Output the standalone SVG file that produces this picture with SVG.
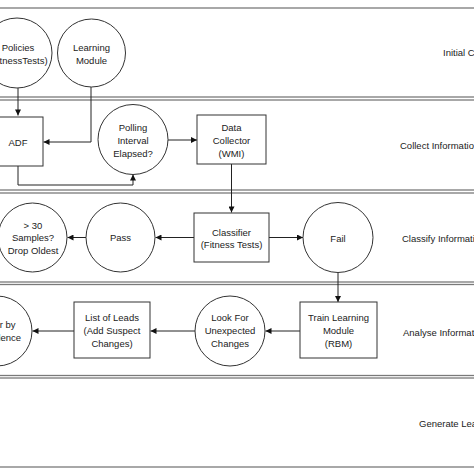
<svg xmlns="http://www.w3.org/2000/svg" width="474" height="474" viewBox="0 0 474 474">
<style>
.lane{fill:none;stroke:#7a7a7a;stroke-width:1.3}
.node{fill:#fff;stroke:#333;stroke-width:1}
.t{font-family:"Liberation Sans",Arial,sans-serif;font-size:9.5px;fill:#222;text-anchor:middle}
.lab{font-family:"Liberation Sans",Arial,sans-serif;font-size:9.5px;fill:#222}
.c{fill:none;stroke:#222;stroke-width:1}
</style>
<defs>
<marker id="ah" viewBox="0 0 10 10" refX="10" refY="5" markerWidth="7" markerHeight="6" orient="auto" markerUnits="userSpaceOnUse">
<path d="M0,0 L10,5 L0,10 z" fill="#111"/>
</marker>
</defs>
<rect width="474" height="474" fill="#fff"/>
<g id="lanes">
<rect class="lane" x="-10" y="8" width="500" height="89"/>
<rect class="lane" x="-10" y="100" width="500" height="90"/>
<rect class="lane" x="-10" y="193" width="500" height="89"/>
<rect class="lane" x="-10" y="284.5" width="500" height="91"/>
<rect class="lane" x="-10" y="378" width="500" height="89"/>
<text class="lab" x="443" y="56">Initial Conditions</text>
<text class="lab" x="400" y="148.5">Collect Information</text>
<text class="lab" x="402" y="241.5">Classify Information</text>
<text class="lab" x="403" y="335.5">Analyse Information</text>
<text class="lab" x="419" y="426.5">Generate Leads</text>
</g>
<g id="connectors">
<path class="c" d="M18,88 V115.5" marker-end="url(#ah)"/>
<path class="c" d="M91,87 V142 H43.5" marker-end="url(#ah)"/>
<path class="c" d="M18,166 V185 H133 V174.5" marker-end="url(#ah)"/>
<path class="c" d="M168,140 H197" marker-end="url(#ah)"/>
<path class="c" d="M231.5,164 V212.5" marker-end="url(#ah)"/>
<path class="c" d="M194,237.5 H155.5" marker-end="url(#ah)"/>
<path class="c" d="M86,237.5 H67.5" marker-end="url(#ah)"/>
<path class="c" d="M269,237.5 H303" marker-end="url(#ah)"/>
<path class="c" d="M338,272.5 V302" marker-end="url(#ah)"/>
<path class="c" d="M300,331 H265.5" marker-end="url(#ah)"/>
<path class="c" d="M195,331 H150.5" marker-end="url(#ah)"/>
<path class="c" d="M74,331 H32.5" marker-end="url(#ah)"/>
</g>
<g id="policies">
<circle class="node" cx="17" cy="53" r="35"/>
<text class="t" x="18" y="50.5">Policies</text>
<text class="t" x="18" y="63.5">(FitnessTests)</text>
</g>
<g id="learning-module">
<circle class="node" cx="91.5" cy="53" r="34"/>
<text class="t" x="91.5" y="50.5">Learning</text>
<text class="t" x="91.5" y="63.5">Module</text>
</g>
<g id="adf">
<rect class="node" x="-7" y="117" width="50" height="49"/>
<text class="t" x="18" y="145.5">ADF</text>
</g>
<g id="polling">
<circle class="node" cx="133" cy="139.5" r="35"/>
<text class="t" x="133" y="130.5">Polling</text>
<text class="t" x="133" y="143.5">Interval</text>
<text class="t" x="133" y="156.5">Elapsed?</text>
</g>
<g id="data-collector">
<rect class="node" x="197" y="115" width="69" height="49"/>
<text class="t" x="231.5" y="130.5">Data</text>
<text class="t" x="231.5" y="143.5">Collector</text>
<text class="t" x="231.5" y="156.5">(WMI)</text>
</g>
<g id="classifier">
<rect class="node" x="194" y="213" width="75" height="49"/>
<text class="t" x="231.5" y="235.5">Classifier</text>
<text class="t" x="231.5" y="247.5">(Fitness Tests)</text>
</g>
<g id="pass">
<circle class="node" cx="120.5" cy="237.5" r="34.5"/>
<text class="t" x="120.5" y="241">Pass</text>
</g>
<g id="samples">
<circle class="node" cx="32.5" cy="237.5" r="34.5"/>
<text class="t" x="33" y="228.5">&gt; 30</text>
<text class="t" x="33" y="241">Samples?</text>
<text class="t" x="33" y="254">Drop Oldest</text>
</g>
<g id="fail">
<circle class="node" cx="338" cy="237.5" r="35"/>
<text class="t" x="338" y="241.5">Fail</text>
</g>
<g id="train">
<rect class="node" x="300" y="302" width="77" height="56"/>
<text class="t" x="338.5" y="320.5">Train Learning</text>
<text class="t" x="338.5" y="333.5">Module</text>
<text class="t" x="338.5" y="346.5">(RBM)</text>
</g>
<g id="look-for">
<circle class="node" cx="230" cy="331" r="35"/>
<text class="t" x="230" y="320.5">Look For</text>
<text class="t" x="230" y="333.5">Unexpected</text>
<text class="t" x="230" y="346.5">Changes</text>
</g>
<g id="list-of-leads">
<rect class="node" x="74" y="302" width="76" height="56"/>
<text class="t" x="112" y="320.5">List of Leads</text>
<text class="t" x="112" y="333.5">(Add Suspect</text>
<text class="t" x="112" y="346.5">Changes)</text>
</g>
<g id="order">
<circle class="node" cx="-3" cy="331" r="35"/>
<text class="t" x="-3" y="327.5">Order by</text>
<text class="t" x="-3" y="340.5">Confidence</text>
</g>
</svg>
